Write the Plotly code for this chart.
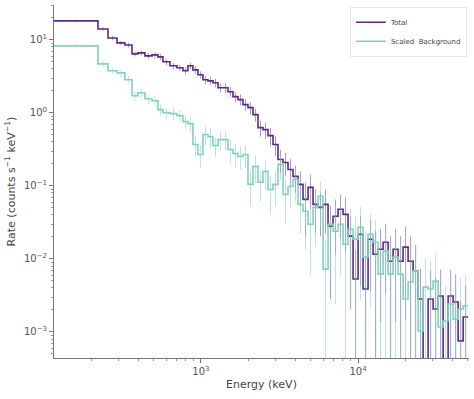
import plotly.graph_objects as go
import math

# Energy bin edges (keV)
edges = [116, 221, 256, 292, 328, 364, 397, 440, 488, 532, 573, 635, 703, 768, 826, 889, 957,
         1030, 1108, 1193, 1284, 1381, 1486, 1600, 1721, 1852, 1993, 2145, 2308, 2484, 2673,
         2876, 3095, 3331, 3584, 3857, 4151, 4467, 4807, 5173, 5566, 5990, 6446, 6937, 7465,
         8033, 8644, 9302, 10010, 10772, 11592, 12474, 13424, 14445, 15545, 16728, 18001,
         19371, 20846, 22432, 24139, 25977, 27954, 30081, 32371, 34835, 37486, 40339, 43409,
         46713, 50269]

# Total rate (counts s^-1 keV^-1)
total = [18.2, 14.1, 10.6, 9.1, 8.5, 6.44, 6.65, 6.05, 6.24, 5.86,
         5.01, 4.42, 4.15, 3.78, 4.42, 3.89, 3.33, 2.84, 2.75, 2.59,
         2.21, 2.21, 1.95, 1.67, 1.52, 1.30, 1.18, 0.947, 0.629, 0.590,
         0.489, 0.369, 0.230, 0.209, 0.168, 0.135, 0.105, 0.0655, 0.0954, 0.0559,
         0.0509, 0.0559, 0.0280, 0.0384, 0.0478, 0.0408, 0.0205, 0.00530, 0.0218, 0.00387,
         0.0186, 0.0116, 0.0136, 0.0169, 0.00931, 0.0136, 0.00931, 0.0145, 0.00931, 0.00681,
         0.00282, 0.00001, 0.00282, 0.00206, 0.00310, 0.00001, 0.00310, 0.00257, 0.000754, 0.00160]

# Relative uncertainty of total
total_relerr = [0.04, 0.06, 0.07, 0.07, 0.08, 0.08, 0.08, 0.09, 0.09, 0.10,
                0.10, 0.10, 0.10, 0.11, 0.11, 0.12, 0.12, 0.13, 0.13, 0.14,
                0.14, 0.15, 0.15, 0.16, 0.17, 0.18, 0.19, 0.20, 0.25, 0.25,
                0.28, 0.30, 0.35, 0.35, 0.40, 0.40, 0.50, 0.70, 0.50, 0.60,
                0.60, 0.60, 0.90, 0.70, 0.60, 0.70, 0.90, 1.50, 0.80, 1.80,
                0.80, 1.10, 0.90, 0.80, 1.20, 0.90, 1.20, 0.90, 1.20, 1.30,
                1.60, 0.0, 1.50, 1.70, 1.30, 0.0, 1.30, 1.40, 2.50, 1.70]

# Scaled background rate
background = [8.28, 4.70, 3.78, 3.54, 2.84, 1.72, 1.89, 1.56, 1.47, 1.11,
              1.01, 0.977, 0.917, 0.760, 0.714, 0.369, 0.269, 0.505, 0.474, 0.357,
              0.431, 0.431, 0.315, 0.278, 0.253, 0.269, 0.105, 0.185, 0.112, 0.158,
              0.0895, 0.105, 0.197, 0.0766, 0.0984, 0.123, 0.0559, 0.0449, 0.0298, 0.0509,
              0.0719, 0.00724, 0.0298, 0.0239, 0.0298, 0.0159, 0.0255, 0.0186, 0.0271, 0.0106,
              0.0218, 0.0169, 0.00619, 0.0128, 0.00619, 0.0106, 0.00619, 0.00282, 0.00482, 0.00681,
              0.00103, 0.00411, 0.00387, 0.00497, 0.00117, 0.00141, 0.00241, 0.00150, 0.00206, 0.00227]

background_relerr = [0.05, 0.10, 0.10, 0.12, 0.12, 0.15, 0.15, 0.15, 0.17, 0.18,
                     0.18, 0.20, 0.20, 0.20, 0.22, 0.30, 0.35, 0.30, 0.30, 0.30,
                     0.30, 0.30, 0.35, 0.35, 0.35, 0.35, 0.50, 0.40, 0.45, 0.45,
                     0.55, 0.50, 0.40, 0.60, 0.50, 0.50, 0.60, 0.70, 0.80, 0.70,
                     0.60, 1.50, 0.80, 0.90, 0.80, 1.10, 0.90, 1.00, 0.90, 1.20,
                     0.90, 1.00, 1.50, 1.00, 1.40, 1.20, 1.40, 1.80, 1.40, 1.30,
                     2.00, 1.50, 1.50, 1.40, 2.00, 2.00, 1.60, 1.80, 1.70, 1.70]

x_ticks = [1000, 10000]
x_ticktext = ["10<sup>3</sup>", "10<sup>4</sup>"]
y_ticks = [1e-3, 1e-2, 1e-1, 1, 10]
y_ticktext = ["10<sup>−3</sup>", "10<sup>−2</sup>", "10<sup>−1</sup>", "10<sup>0</sup>", "10<sup>1</sup>"]

C_TOTAL = "#5c2a85"
C_TOTAL_ERR = "rgba(120,60,160,0.55)"
C_BKG = "#80d2bc"
C_BKG_ERR = "rgba(128,210,188,0.55)"


def step_xy(vals):
    xs = list(edges)
    ys = list(vals) + [vals[-1]]
    return xs, ys


def err_xy(vals, rel):
    xs, ys = [], []
    for i, v in enumerate(vals):
        e = v * rel[i]
        if e <= 0:
            continue
        c = math.sqrt(edges[i] * edges[i + 1])
        lo = v - e
        if lo <= 0:
            lo = 1e-7
        xs += [c, c, None]
        ys += [lo, v + e, None]
    return xs, ys


fig = go.Figure()

ex, ey = err_xy(total, total_relerr)
fig.add_trace(go.Scatter(x=ex, y=ey, mode="lines", line=dict(color=C_TOTAL_ERR, width=1),
                         showlegend=False, hoverinfo="skip"))
sx, sy = step_xy(total)
fig.add_trace(go.Scatter(x=sx, y=sy, mode="lines", line=dict(color=C_TOTAL, width=1.6, shape="hv"),
                         name="Total", legendrank=1))

ex, ey = err_xy(background, background_relerr)
fig.add_trace(go.Scatter(x=ex, y=ey, mode="lines", line=dict(color=C_BKG_ERR, width=1),
                         showlegend=False, hoverinfo="skip"))
sx, sy = step_xy(background)
fig.add_trace(go.Scatter(x=sx, y=sy, mode="lines", line=dict(color=C_BKG, width=1.6, shape="hv"),
                         name="Scaled  Background", legendrank=2))

x_minor = [m * 10 ** d for d in range(2, 5) for m in range(2, 10)]
y_minor = [m * 10 ** d for d in range(-4, 2) for m in range(2, 10)]

axis_common = dict(showgrid=False, zeroline=False, showline=True, linecolor="#777777", linewidth=1,
                   ticks="outside", ticklen=4, tickwidth=1, tickcolor="#777777", automargin=False,
                   tickfont=dict(family="DejaVu Sans", size=10, color="#555555"), mirror=False)

fig.update_layout(
    width=474, height=399,
    margin=dict(l=54, r=5, t=5, b=41),
    paper_bgcolor="white", plot_bgcolor="white",
    font=dict(family="DejaVu Sans", color="#444444"),
    xaxis=dict(type="log", range=[math.log10(116), math.log10(50900)],
               tickmode="array", tickvals=x_ticks, ticktext=x_ticktext,
               title=dict(text="Energy (keV)", font=dict(size=11, color="#444444"), standoff=4),
               minor=dict(tickmode="array", tickvals=x_minor, ticks="outside", ticklen=2,
                          tickcolor="#999999"),
               **axis_common),
    yaxis=dict(type="log", range=[-3.357, 1.478],
               tickmode="array", tickvals=y_ticks, ticktext=y_ticktext,
               title=dict(text="Rate (counts s<sup>−1</sup> keV<sup>−1</sup>)",
                          font=dict(size=11, color="#444444"), standoff=6),
               minor=dict(tickmode="array", tickvals=y_minor, ticks="outside", ticklen=2,
                          tickcolor="#999999"),
               **axis_common),
    legend=dict(x=0.995, y=0.995, xanchor="right", yanchor="top",
                bgcolor="rgba(255,255,255,0.9)", bordercolor="#e6e6e6", borderwidth=1,
                font=dict(family="DejaVu Sans", size=7, color="#444444"),
                itemwidth=30, tracegroupgap=0),
    showlegend=True,
)

fig.write_html("out.html", config={"displayModeBar": False},
               post_script="document.body.style.margin='0';document.body.style.overflow='hidden';")
